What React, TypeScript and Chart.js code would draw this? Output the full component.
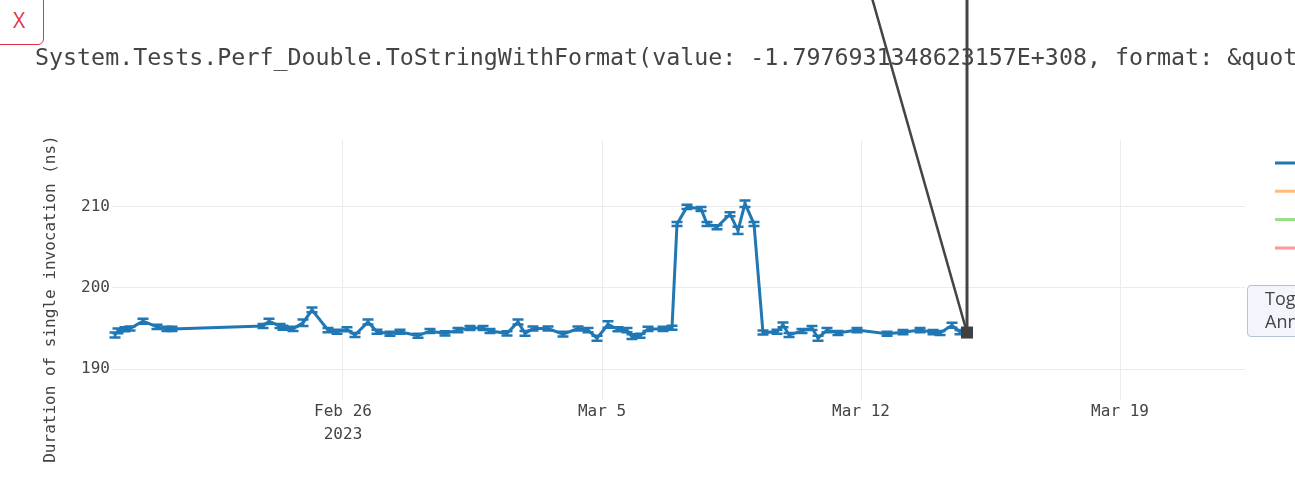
import React, { useEffect, useRef } from "react";
import { Chart, registerables } from "chart.js";

Chart.register(...registerables);

const TITLE =
  "System.Tests.Perf_Double.ToStringWithFormat(value: -1.7976931348623157E+308, format: &quot;R&quot;)";
const Y_TITLE = "Duration of single invocation (ns)";

const runDates = [
  "2023-02-19T20:07", "2023-02-19T22:03", "2023-02-20T02:35", "2023-02-20T05:50",
  "2023-02-20T14:17", "2023-02-20T23:21", "2023-02-21T05:50", "2023-02-21T09:04",
  "2023-02-23T20:07", "2023-02-24T00:00", "2023-02-24T07:08", "2023-02-24T09:04",
  "2023-02-24T15:34", "2023-02-24T22:03", "2023-02-25T03:53", "2023-02-25T14:17",
  "2023-02-25T20:07", "2023-02-26T02:35", "2023-02-26T07:47", "2023-02-26T16:13",
  "2023-02-26T22:03", "2023-02-27T06:29", "2023-02-27T12:59", "2023-02-28T00:39",
  "2023-02-28T08:25", "2023-02-28T18:10", "2023-03-01T02:35", "2023-03-01T10:22",
  "2023-03-01T18:49", "2023-03-01T23:21", "2023-03-02T10:22", "2023-03-02T17:31",
  "2023-03-02T22:03", "2023-03-03T03:14", "2023-03-03T12:59", "2023-03-03T22:42",
  "2023-03-04T08:25", "2023-03-04T14:56", "2023-03-04T20:45", "2023-03-05T03:53",
  "2023-03-05T10:22", "2023-03-05T16:13", "2023-03-05T19:28", "2023-03-06T00:39",
  "2023-03-06T05:50", "2023-03-06T15:34", "2023-03-06T21:24", "2023-03-07T00:39",
  "2023-03-07T07:08", "2023-03-07T16:13", "2023-03-07T20:07", "2023-03-08T02:35",
  "2023-03-08T11:01", "2023-03-08T16:13", "2023-03-08T20:45", "2023-03-09T02:35",
  "2023-03-09T08:25", "2023-03-09T17:31", "2023-03-09T21:24", "2023-03-10T01:18",
  "2023-03-10T09:43", "2023-03-10T16:13", "2023-03-10T20:07", "2023-03-11T01:57",
  "2023-03-11T09:04", "2023-03-11T21:24", "2023-03-12T16:52", "2023-03-13T03:14",
  "2023-03-13T14:17", "2023-03-13T22:42", "2023-03-14T03:14", "2023-03-14T11:01",
  "2023-03-14T16:13", "2023-03-14T20:45",
];

const durations = [
  194.2, 194.7, 194.9, 195.0,
  195.9, 195.2, 194.95, 194.95,
  195.3, 195.9, 195.3, 195.1,
  194.95, 195.7, 197.3, 194.8,
  194.6, 194.9, 194.2, 195.8,
  194.6, 194.35, 194.6, 194.1,
  194.7, 194.4, 194.8, 195.05,
  195.05, 194.7, 194.4, 195.8,
  194.4, 195.0, 195.0, 194.3,
  195.0, 194.8, 193.8, 195.5,
  194.9, 194.8, 194.0, 194.1,
  194.95, 194.95, 195.1, 207.9,
  210.0, 209.75, 207.9, 207.5,
  209.1, 207.1, 210.4, 207.9,
  194.5, 194.6, 195.45, 194.2,
  194.7, 195.05, 193.8, 194.8,
  194.45, 194.8, 194.35, 194.55,
  194.8, 194.55, 194.45, 195.4,
  194.55, 194.5,
];

const errors = [
  0.3, 0.3, 0.25, 0.25,
  0.3, 0.25, 0.25, 0.25,
  0.25, 0.3, 0.25, 0.25,
  0.25, 0.4, 0.3, 0.25,
  0.25, 0.25, 0.25, 0.3,
  0.25, 0.25, 0.25, 0.25,
  0.25, 0.25, 0.25, 0.25,
  0.25, 0.25, 0.25, 0.3,
  0.3, 0.25, 0.25, 0.3,
  0.25, 0.25, 0.3, 0.4,
  0.25, 0.25, 0.3, 0.25,
  0.25, 0.25, 0.25, 0.25,
  0.25, 0.25, 0.25, 0.25,
  0.25, 0.45, 0.4, 0.25,
  0.25, 0.25, 0.3, 0.25,
  0.25, 0.25, 0.3, 0.25,
  0.25, 0.25, 0.25, 0.25,
  0.25, 0.25, 0.25, 0.3,
  0.25, 0.25,
];

const xRange = ["2023-02-19T18:10", "2023-03-22T09:04"];
const yRange = [186.18, 218.25];
const xTickDates = ["2023-02-26T00:00", "2023-03-05T00:00", "2023-03-12T00:00", "2023-03-19T00:00"];
const xTickLabels: (string | string[])[] = [["Feb 26", "2023"], "Mar 5", "Mar 12", "Mar 19"];
const yTicks = [190, 200, 210];

const seriesNames = ["Duration", "Baseline", "Lower bound", "Upper bound"];
const seriesColors = ["#1f77b4", "#ffbb78", "#98df8a", "#ff9896"];

const MONO = "'DejaVu Sans Mono', 'Liberation Mono', monospace";
const TEXT = "#444444";
const GRID = "#ebebeb";

function dayNum(s: string): number {
  const [d, t] = s.split("T");
  const [y, m, dd] = d.split("-").map(Number);
  const [h, mi] = t.split(":").map(Number);
  return (Date.UTC(y, m - 1, dd, h, mi) - Date.UTC(2023, 0, 1)) / 86400000;
}

const CANVAS_W = 1500;
const CANVAS_H = 477;

export default function App() {
  const ref = useRef<HTMLCanvasElement | null>(null);

  useEffect(() => {
    const canvas = ref.current;
    if (!canvas) return;

    const points = runDates.map((d, i) => ({ x: dayNum(d), y: durations[i] }));

    const errorBars = {
      id: "errorBars",
      afterDatasetsDraw(chart: any) {
        const ctx = chart.ctx;
        const xs = chart.scales.x;
        const ys = chart.scales.y;
        ctx.save();
        ctx.strokeStyle = seriesColors[0];
        ctx.lineWidth = 2.5;
        points.forEach((p, i) => {
          const px = xs.getPixelForValue(p.x);
          const top = ys.getPixelForValue(p.y + errors[i]);
          const bot = ys.getPixelForValue(p.y - errors[i]);
          ctx.beginPath();
          ctx.moveTo(px, top);
          ctx.lineTo(px, bot);
          ctx.moveTo(px - 5.5, top);
          ctx.lineTo(px + 5.5, top);
          ctx.moveTo(px - 5.5, bot);
          ctx.lineTo(px + 5.5, bot);
          ctx.stroke();
        });
        ctx.restore();
      },
    };

    const decorations = {
      id: "decorations",
      afterDraw(chart: any) {
        const ctx = chart.ctx;
        const area = chart.chartArea;
        ctx.save();
        // Title
        ctx.fillStyle = TEXT;
        ctx.font = `23.3px ${MONO}`;
        ctx.textAlign = "left";
        ctx.textBaseline = "alphabetic";
        ctx.fillText(TITLE, 35, 65);
        // Y axis title
        ctx.save();
        ctx.translate(55, 299);
        ctx.rotate(-Math.PI / 2);
        ctx.font = `16px ${MONO}`;
        ctx.textAlign = "center";
        ctx.fillText(Y_TITLE, 0, 0);
        ctx.restore();
        // Legend
        seriesColors.forEach((c, i) => {
          const y = 163 + i * 28.3;
          ctx.strokeStyle = c;
          ctx.lineWidth = 3;
          ctx.beginPath();
          ctx.moveTo(area.right + 30, y);
          ctx.lineTo(area.right + 70, y);
          ctx.stroke();
          ctx.fillStyle = TEXT;
          ctx.font = `16px ${MONO}`;
          ctx.textBaseline = "middle";
          ctx.fillText(seriesNames[i], area.right + 76, y);
        });
        // Annotation arrows pointing at the latest run
        const last = points[points.length - 1];
        const px = chart.scales.x.getPixelForValue(last.x);
        const py = chart.scales.y.getPixelForValue(last.y);
        ctx.strokeStyle = "#444444";
        ctx.lineWidth = 3;
        ctx.beginPath();
        ctx.moveTo(px, py);
        ctx.lineTo(px, -10);
        ctx.stroke();
        ctx.lineWidth = 2.5;
        ctx.beginPath();
        ctx.moveTo(px, py);
        ctx.lineTo(px - 94 * ((py + 10) / 331), -10);
        ctx.stroke();
        ctx.fillStyle = "#404040";
        ctx.fillRect(px - 6, py - 6, 12, 12);
        ctx.restore();
      },
    };

    const chart = new Chart(canvas, {
      type: "line",
      data: {
        datasets: seriesNames.map((name, i) => ({
          label: name,
          data: i === 0 ? points : [],
          borderColor: seriesColors[i],
          backgroundColor: seriesColors[i],
          borderWidth: 3,
          pointRadius: 0,
          tension: 0,
          fill: false,
        })),
      },
      options: {
        responsive: false,
        animation: false,
        layout: { padding: { top: 140, right: CANVAS_W - 1245, left: 0, bottom: 0 } },
        plugins: {
          legend: { display: false },
          tooltip: { enabled: false },
          title: { display: false },
        },
        scales: {
          x: {
            type: "linear",
            min: dayNum(xRange[0]),
            max: dayNum(xRange[1]),
            afterBuildTicks: (axis: any) => {
              axis.ticks = xTickDates.map((d) => ({ value: dayNum(d) }));
            },
            afterFit: (s: any) => {
              s.height = 77;
            },
            grid: { color: GRID, drawTicks: false, lineWidth: 1 },
            border: { display: false },
            ticks: {
              autoSkip: false,
              maxRotation: 0,
              padding: 0,
              color: TEXT,
              font: { family: MONO, size: 16, lineHeight: 1.45 },
              callback: (_v: any, i: number) => xTickLabels[i],
            },
          },
          y: {
            type: "linear",
            min: yRange[0],
            max: yRange[1],
            afterBuildTicks: (axis: any) => {
              axis.ticks = yTicks.map((v) => ({ value: v }));
            },
            afterFit: (s: any) => {
              s.width = 112;
            },
            grid: { color: GRID, drawTicks: false, lineWidth: 1 },
            border: { display: false },
            ticks: {
              padding: 2,
              color: TEXT,
              font: { family: MONO, size: 16 },
              callback: (v: any) => String(v),
            },
          },
        },
      },
      plugins: [errorBars, decorations],
    } as any);

    return () => chart.destroy();
  }, []);

  return (
    <div
      style={{
        position: "absolute",
        left: 0,
        top: 0,
        width: 1295,
        height: 477,
        overflow: "hidden",
        background: "#ffffff",
      }}
    >
      <canvas
        ref={ref}
        width={CANVAS_W}
        height={CANVAS_H}
        style={{ position: "absolute", left: 0, top: 0, width: CANVAS_W, height: CANVAS_H }}
      />
      <div
        style={{
          position: "absolute",
          left: -6,
          top: -5,
          width: 50,
          height: 50,
          boxSizing: "border-box",
          border: "1px solid #e0344c",
          borderRadius: 6,
          color: "#e0344c",
          fontFamily: "'Open Sans', 'Noto Sans', sans-serif",
          fontSize: 21,
          display: "flex",
          alignItems: "center",
          justifyContent: "center",
          background: "#ffffff",
        }}
      >
        X
      </div>
      <div
        style={{
          position: "absolute",
          left: 1247,
          top: 285,
          width: 150,
          height: 52,
          boxSizing: "border-box",
          border: "1px solid #b7c2d6",
          borderRadius: 4,
          background: "#f2f6fc",
          color: TEXT,
          fontFamily: "'Open Sans', 'Noto Sans', sans-serif",
          fontSize: 18,
          lineHeight: "23px",
          paddingLeft: 17,
          paddingTop: 1,
          whiteSpace: "nowrap",
        }}
      >
        Toggle
        <br />
        Annotations
      </div>
    </div>
  );
}
